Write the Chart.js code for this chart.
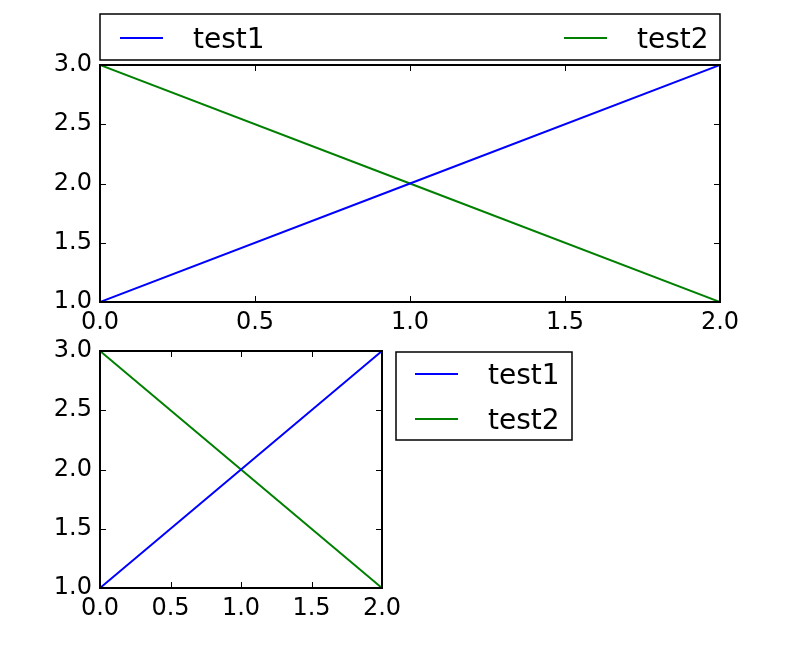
<!DOCTYPE html>
<html>
<head>
<meta charset="utf-8">
<script src="https://cdn.jsdelivr.net/npm/chart.js@4.4.1/dist/chart.umd.min.js"></script>
<style>
    html, body { margin: 0; padding: 0; background: #fff; }
    #wrap { position: relative; width: 800px; height: 654px; }
    #wrap canvas { position: absolute; left: 0; top: 0; }
</style>
</head>
<body>
<div id="wrap">
    <canvas id="topChart" width="800" height="654"></canvas>
    <canvas id="bottomChart" width="800" height="654"></canvas>
</div>
<script>
// Data
const xValues = [0, 1, 2];
const test1 = [1, 2, 3];
const test2 = [3, 2, 1];
const seriesNames = ['test1', 'test2'];
const seriesColors = ['#0000ff', '#008000'];
const xTicks = [0, 0.5, 1, 1.5, 2];
const yTicks = [1, 1.5, 2, 2.5, 3];

const FONT = "'DejaVu Sans', sans-serif";

function makeDatasets() {
    return [test1, test2].map((vals, i) => ({
        label: seriesNames[i],
        data: vals.map((v, j) => ({ x: xValues[j], y: v })),
        borderColor: seriesColors[i],
        backgroundColor: seriesColors[i],
        borderWidth: 2,
        pointRadius: 0,
        tension: 0
    }));
}

// Frame around the plot area + inward tick marks on all four sides
const framePlugin = {
    id: 'frame',
    afterDatasetsDraw(chart) {
        const { ctx, chartArea: a, scales } = chart;
        ctx.save();
        ctx.strokeStyle = '#000';
        ctx.lineWidth = 1;
        ctx.beginPath();
        xTicks.forEach(v => {
            const px = Math.round(scales.x.getPixelForValue(v)) + 0.5;
            ctx.moveTo(px, a.bottom); ctx.lineTo(px, a.bottom - 6);
            ctx.moveTo(px, a.top); ctx.lineTo(px, a.top + 6);
        });
        yTicks.forEach(v => {
            const py = Math.round(scales.y.getPixelForValue(v)) + 0.5;
            ctx.moveTo(a.left, py); ctx.lineTo(a.left + 6, py);
            ctx.moveTo(a.right, py); ctx.lineTo(a.right - 6, py);
        });
        ctx.stroke();
        ctx.lineWidth = 2;
        ctx.strokeRect(a.left, a.top, a.right - a.left, a.bottom - a.top);
        ctx.restore();
    }
};

// Boxed legend in matplotlib style
const boxLegendPlugin = {
    id: 'boxLegend',
    afterDraw(chart, args, opts) {
        const { ctx } = chart;
        const b = opts.box;
        ctx.save();
        ctx.fillStyle = '#fff';
        ctx.fillRect(b.x, b.y, b.w, b.h);
        ctx.strokeStyle = '#000';
        ctx.lineWidth = 1.5;
        ctx.strokeRect(b.x, b.y, b.w, b.h);
        ctx.font = '28px ' + FONT;
        ctx.textBaseline = 'alphabetic';
        ctx.textAlign = 'left';
        chart.data.datasets.forEach((ds, i) => {
            const it = opts.items[i];
            ctx.strokeStyle = ds.borderColor;
            ctx.lineWidth = 2;
            ctx.beginPath();
            ctx.moveTo(it.lineX, it.y);
            ctx.lineTo(it.lineX + 43, it.y);
            ctx.stroke();
            ctx.fillStyle = '#000';
            ctx.fillText(ds.label, it.textX, it.y + 10);
        });
        ctx.restore();
    }
};

function makeOptions(padding, legendOpts) {
    return {
        responsive: false,
        animation: false,
        devicePixelRatio: 1,
        layout: { padding: padding },
        plugins: {
            legend: { display: false },
            tooltip: { enabled: false },
            boxLegend: legendOpts
        },
        scales: {
            x: {
                type: 'linear',
                min: 0,
                max: 2,
                afterBuildTicks: s => { s.ticks = xTicks.map(v => ({ value: v })); },
                afterFit: s => { s.height = 40; },
                grid: { display: false, drawTicks: false },
                border: { display: false },
                ticks: {
                    padding: 6,
                    color: '#000',
                    maxRotation: 0,
                    font: { family: FONT, size: 24 },
                    callback: v => v.toFixed(1)
                }
            },
            y: {
                type: 'linear',
                min: 1,
                max: 3,
                afterBuildTicks: s => { s.ticks = yTicks.map(v => ({ value: v })); },
                afterFit: s => { s.width = 60; },
                grid: { display: false, drawTicks: false },
                border: { display: false },
                ticks: {
                    padding: 8,
                    color: '#000',
                    font: { family: FONT, size: 24 },
                    callback: v => v.toFixed(1)
                }
            }
        }
    };
}

// Top: plot area 100..720 x 65..302
new Chart(document.getElementById('topChart'), {
    type: 'line',
    data: { datasets: makeDatasets() },
    options: makeOptions(
        { left: 40, right: 80, top: 65, bottom: 654 - 302 - 40 },
        {
            box: { x: 100, y: 14, w: 620, h: 46 },
            items: [
                { lineX: 120, textX: 193, y: 38 },
                { lineX: 564, textX: 637, y: 38 }
            ]
        }
    ),
    plugins: [framePlugin, boxLegendPlugin]
});

// Bottom: plot area 100..382 x 351..588
new Chart(document.getElementById('bottomChart'), {
    type: 'line',
    data: { datasets: makeDatasets() },
    options: makeOptions(
        { left: 40, right: 800 - 382, top: 351, bottom: 654 - 588 - 40 },
        {
            box: { x: 396, y: 352, w: 176, h: 88 },
            items: [
                { lineX: 415, textX: 488, y: 374 },
                { lineX: 415, textX: 488, y: 419 }
            ]
        }
    ),
    plugins: [framePlugin, boxLegendPlugin]
});
</script>
</body>
</html>
